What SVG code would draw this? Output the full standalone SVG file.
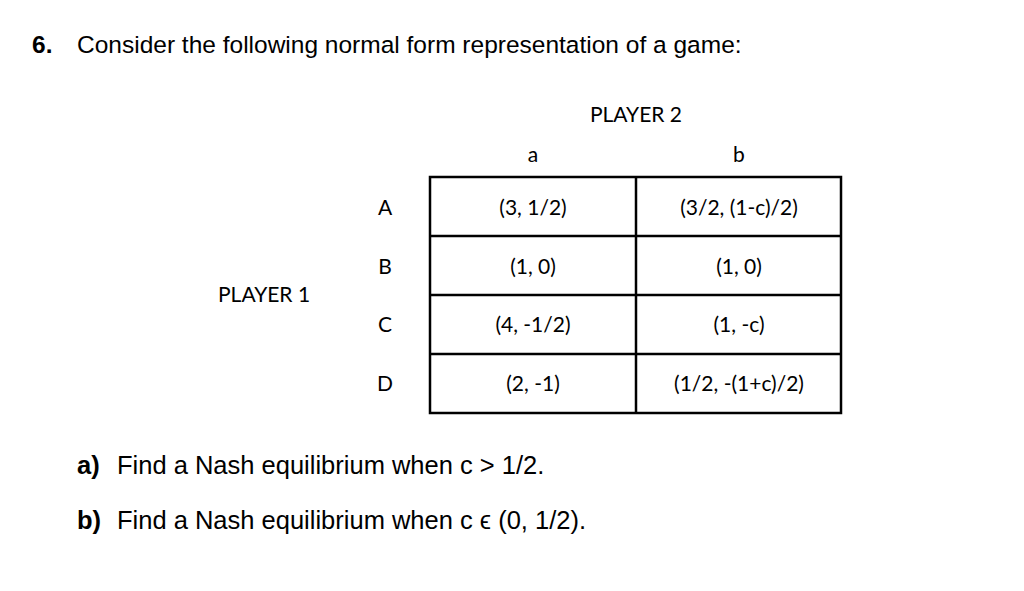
<svg xmlns="http://www.w3.org/2000/svg" width="1024" height="591" viewBox="0 0 1024 591">
<style>
.h{font-family:"Liberation Sans",Arial,sans-serif;font-size:24.5px;fill:#000}
.q{font-size:25.5px}
.b{font-weight:bold}
.t{font-family:Lato,"Open Sans",sans-serif;font-size:21px;fill:#000;text-anchor:middle}
.l{font-family:Lato,"Open Sans",sans-serif;font-size:21px;fill:#000}
</style>
<rect width="1024" height="591" fill="#fff"/>
<text class="h b" x="32" y="53">6.</text>
<text class="h" x="77" y="53">Consider the following normal form representation of a game:</text>
<text class="t" x="636" y="122">PLAYER 2</text>
<text class="t" x="533" y="162">a</text>
<text class="t" x="739" y="162">b</text>
<text class="l" x="218" y="302">PLAYER 1</text>
<g id="rows">
<text class="t" x="385" y="215">A</text>
<text class="t" x="385" y="274">B</text>
<text class="t" x="385" y="332">C</text>
<text class="t" x="385" y="391">D</text>
</g>
<g id="table" fill="none" stroke="#000" stroke-width="2.5">
<rect x="430" y="177" width="411" height="236"/>
<line x1="636" y1="177" x2="636" y2="413"/>
<line x1="430" y1="236" x2="841" y2="236"/>
<line x1="430" y1="295" x2="841" y2="295"/>
<line x1="430" y1="354" x2="841" y2="354"/>
</g>
<g id="cells">
<text class="t" x="533" y="215">(3, 1/2)</text>
<text class="t" x="739" y="215">(3/2, (1-c)/2)</text>
<text class="t" x="533" y="274">(1, 0)</text>
<text class="t" x="739" y="274">(1, 0)</text>
<text class="t" x="533" y="332">(4, -1/2)</text>
<text class="t" x="739" y="332">(1, -c)</text>
<text class="t" x="533" y="391">(2, -1)</text>
<text class="t" x="739" y="391">(1/2, -(1+c)/2)</text>
</g>
<text class="h q b" x="77" y="474">a)</text>
<text class="h q" x="117" y="474">Find a Nash equilibrium when c &gt; 1/2.</text>
<text class="h q b" x="77" y="529">b)</text>
<text class="h q" x="117" y="529">Find a Nash equilibrium when c ϵ (0, 1/2).</text>
</svg>
